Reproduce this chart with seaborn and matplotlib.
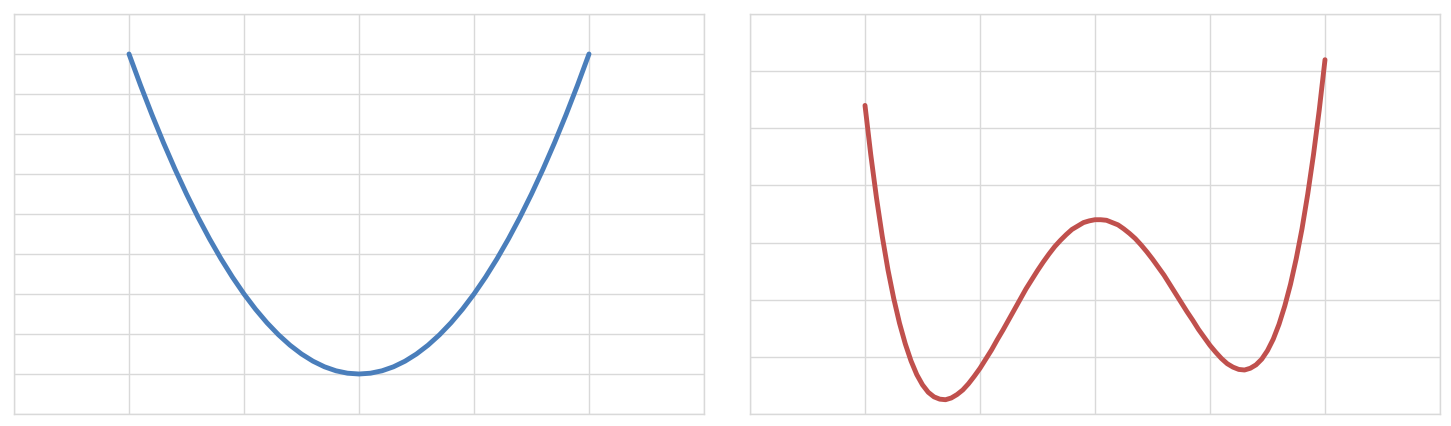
import numpy as np
import pandas as pd
import matplotlib
matplotlib.use('Agg')
import matplotlib.pyplot as plt
import seaborn as sns

# values
# left panel: parabola, x from -2 to 2 in steps of 0.1
left_x = [round(-2.0 + 0.1 * i, 2) for i in range(41)]
left_y = [4.00, 3.61, 3.24, 2.89, 2.56, 2.25, 1.96, 1.69, 1.44, 1.21,
          1.00, 0.81, 0.64, 0.49, 0.36, 0.25, 0.16, 0.09, 0.04, 0.01,
          0.00, 0.01, 0.04, 0.09, 0.16, 0.25, 0.36, 0.49, 0.64, 0.81,
          1.00, 1.21, 1.44, 1.69, 1.96, 2.25, 2.56, 2.89, 3.24, 3.61, 4.00]

# right panel: tilted double well, x from -2 to 2 in steps of 0.05
right_x = [round(-2.0 + 0.05 * i, 2) for i in range(81)]
right_y = [5.40, 4.54, 3.78, 3.11, 2.52, 2.02, 1.59, 1.23, 0.93, 0.69,
           0.51, 0.38, 0.30, 0.26, 0.25, 0.28, 0.34, 0.42, 0.53, 0.66,
           0.80, 0.96, 1.12, 1.30, 1.47, 1.65, 1.83, 2.01, 2.19, 2.35,
           2.51, 2.66, 2.80, 2.93, 3.04, 3.14, 3.23, 3.29, 3.35, 3.38,
           3.40, 3.40, 3.39, 3.35, 3.31, 3.24, 3.16, 3.07, 2.96, 2.84,
           2.71, 2.57, 2.43, 2.27, 2.11, 1.95, 1.79, 1.64, 1.48, 1.34,
           1.20, 1.08, 0.97, 0.88, 0.82, 0.78, 0.77, 0.80, 0.86, 0.96,
           1.11, 1.31, 1.57, 1.89, 2.27, 2.72, 3.24, 3.85, 4.54, 5.32, 6.20]

left_df = pd.DataFrame({'x': left_x, 'y': left_y})
right_df = pd.DataFrame({'x': right_x, 'y': right_y})

sns.set_style('white')

fig = plt.figure(figsize=(14.51, 4.27), dpi=100)
ax1 = fig.add_axes([14 / 1451, 12 / 427, 690 / 1451, 400 / 427])
ax2 = fig.add_axes([750 / 1451, 12 / 427, 690 / 1451, 400 / 427])

sns.lineplot(data=left_df, x='x', y='y', ax=ax1, color='#4a7ebb', linewidth=3.5,
             solid_capstyle='round', solid_joinstyle='round')
sns.lineplot(data=right_df, x='x', y='y', ax=ax2, color='#c0504d', linewidth=3.5,
             solid_capstyle='round', solid_joinstyle='round')

ax1.set_xlim(-3, 3)
ax1.set_ylim(-0.5, 4.5)
ax1.set_yticks(np.arange(-0.5, 4.51, 0.5))

ax2.set_xlim(-3, 3)
ax2.set_ylim(0, 7)
ax2.set_yticks(np.arange(0, 7.01, 1))

for ax in (ax1, ax2):
    ax.set_xticks(np.arange(-3, 3.01, 1))
    ax.grid(True, color='#d9d9d9', linewidth=1)
    ax.set_axisbelow(True)
    ax.tick_params(length=0, labelbottom=False, labelleft=False)
    ax.set_xlabel('')
    ax.set_ylabel('')
    for s in ax.spines.values():
        s.set_visible(True)
        s.set_color('#d9d9d9')
        s.set_linewidth(1)

fig.savefig('out.png', dpi=100)
